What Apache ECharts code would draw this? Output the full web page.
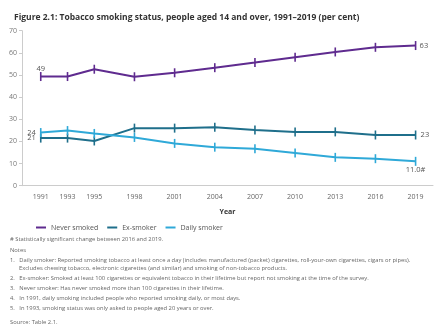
<!DOCTYPE html>
<html>
<head>
<meta charset="utf-8">
<script src="https://cdn.jsdelivr.net/npm/echarts@6/dist/echarts.min.js"></script>
<style>
  html, body { margin: 0; padding: 0; background: #fff; }
  #main { width: 445px; height: 333px; }
</style>
</head>
<body>
<div id="main"></div>
<script>
  // data
  const years = [1991, 1993, 1995, 1998, 2001, 2004, 2007, 2010, 2013, 2016, 2019]
  const neverSmoked = [49.3, 49.3, 52.6, 49.2, 51.0, 53.3, 55.6, 58.0, 60.4, 62.5, 63.3]
  const exSmoker = [21.5, 21.5, 20.2, 26.0, 26.0, 26.4, 25.1, 24.3, 24.3, 22.9, 22.9]
  const dailySmoker = [24.0, 24.9, 23.6, 21.8, 19.1, 17.4, 16.7, 14.8, 12.8, 12.2, 11.0]
  const yTicks = [0, 10, 20, 30, 40, 50, 60, 70]
  // labels shown at the line ends
  const startLabels = ['49', '21', '24']
  const endLabels = ['63', '23', '11.0#']

  const notes = [
    '# Statistically significant change between 2016 and 2019.',
    'Notes',
    '1.   Daily smoker: Reported smoking tobacco at least once a day (includes manufactured (packet) cigarettes, roll-your-own cigarettes, cigars or pipes).',
    '      Excludes chewing tobacco, electronic cigarettes (and similar) and smoking of non-tobacco products.',
    '2.   Ex-smoker: Smoked at least 100 cigarettes or equivalent tobacco in their lifetime but report not smoking at the time of the survey.',
    '3.   Never smoker: Has never smoked more than 100 cigarettes in their lifetime.',
    '4.   In 1991, daily smoking included people who reported smoking daily, or most days.',
    '5.   In 1993, smoking status was only asked to people aged 20 years or over.',
    'Source: Table 2.1.'
  ]
  const noteY = [239, 250, 260, 268, 278, 288, 298, 308, 322]

  const colors = ['#5f2b8f', '#1f6f8b', '#2fa9d8']
  const font = '"Open Sans", "Noto Sans", sans-serif'

  function makeSeries (name, vals, idx, labelCfg) {
    return {
      name: name,
      type: 'line',
      data: years.map((y, i) => [y, vals[i]]),
      symbol: 'rect',
      symbolSize: [1.6, 9],
      showAllSymbol: true,
      lineStyle: { width: 2, color: colors[idx] },
      itemStyle: { color: colors[idx] },
      emphasis: { disabled: true },
      label: { show: false },
      markPoint: {
        symbol: 'circle',
        symbolSize: 0,
        silent: true,
        data: labelCfg.map(c => ({
          coord: [years[c.i], vals[c.i]],
          label: {
            show: true,
            position: c.pos,
            distance: c.dist || 3,
            formatter: c.text,
            color: '#555',
            fontSize: 7.5,
            fontFamily: font
          }
        }))
      }
    }
  }

  const last = years.length - 1
  const chart = echarts.init(document.getElementById('main'))
  chart.setOption({
    animation: false,
    color: colors,
    title: {
      text: 'Figure 2.1: Tobacco smoking status, people aged 14 and over, 1991–2019 (per cent)',
      left: 9,
      top: 8,
      textStyle: { fontSize: 8.5, fontWeight: 'bold', color: '#333', fontFamily: font }
    },
    legend: {
      data: ['Never smoked', 'Ex-smoker', 'Daily smoker'],
      left: 31,
      top: 219,
      itemWidth: 10,
      itemHeight: 2,
      itemGap: 9,
      icon: 'rect',
      textStyle: { fontSize: 7, color: '#555', fontFamily: font }
    },
    grid: { left: 22, right: 12, top: 30.7, bottom: 147.3 },
    xAxis: {
      type: 'value',
      min: 1989.6,
      max: 2020.3,
      name: 'Year',
      nameLocation: 'middle',
      nameGap: 23,
      nameTextStyle: { fontSize: 7, fontWeight: 'bold', color: '#333', fontFamily: font },
      splitLine: { show: false },
      axisLine: { show: true, lineStyle: { color: '#ccc', width: 1 } },
      axisTick: { show: false },
      axisLabel: {
        customValues: years,
        fontSize: 7,
        color: '#666',
        margin: 8,
        fontFamily: font,
        formatter: v => String(v)
      }
    },
    yAxis: {
      type: 'value',
      min: 0,
      max: 70,
      interval: 10,
      splitLine: { show: false },
      axisLine: { show: true, lineStyle: { color: '#ccc', width: 1 } },
      axisTick: { show: true, length: 3, lineStyle: { color: '#ccc' } },
      axisLabel: {
        fontSize: 7,
        color: '#777',
        margin: 5,
        fontFamily: font,
        formatter: v => yTicks.includes(v) ? String(v) : ''
      }
    },
    series: [
      makeSeries('Never smoked', neverSmoked, 0, [
        { i: 0, pos: 'top', text: startLabels[0], dist: 4 },
        { i: last, pos: 'right', text: endLabels[0], dist: 4 }
      ]),
      makeSeries('Ex-smoker', exSmoker, 1, [
        { i: 0, pos: 'left', text: startLabels[1], dist: 5 },
        { i: last, pos: 'right', text: endLabels[1], dist: 5 }
      ]),
      makeSeries('Daily smoker', dailySmoker, 2, [
        { i: 0, pos: 'left', text: startLabels[2], dist: 5 },
        { i: last, pos: 'bottom', text: endLabels[2], dist: 5 }
      ])
    ],
    graphic: notes.map((t, i) => ({
      type: 'text',
      left: 10,
      top: noteY[i] - 3,
      style: {
        text: t,
        fontSize: 5.8,
        fill: '#666',
        fontFamily: font
      }
    }))
  })
</script>
</body>
</html>
